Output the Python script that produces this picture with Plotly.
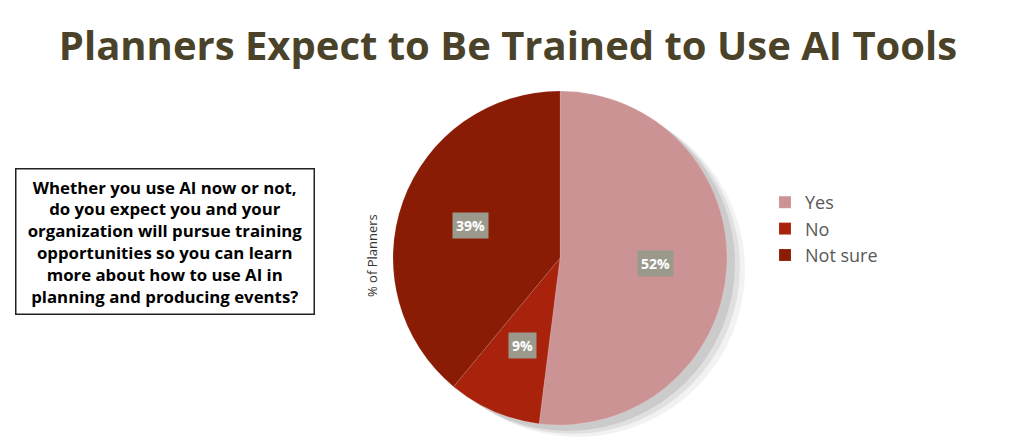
import math
import plotly.graph_objects as go

# data
labels = ["Yes", "No", "Not sure"]
values = [52, 9, 39]
colors = ["#cc9394", "#a9220c", "#8a1c06"]

title = "Planners Expect to Be Trained to Use AI Tools"
question = ("Whether you use AI now or not,<br>do you expect you and your<br>"
            "organization will pursue training<br>opportunities so you can learn<br>"
            "more about how to use AI in<br>planning and producing events?")

# page body has an 8px margin, so size the figure to fit the window
OFF = 8
W, H = 1024 - OFF, 443 - OFF


def px(X, Y):
    # window pixel -> paper coords
    return (X - OFF) / W, 1 - (Y - OFF) / H


# pie geometry
cx, cy = px(560, 258)
r = 167
dom_x = [cx - r / W, cx + r / W]
dom_y = [cy - r / H, cy + r / H]

fig = go.Figure()
fig.add_trace(go.Pie(
    labels=labels, values=values, sort=False, direction="clockwise", rotation=0,
    marker=dict(colors=colors, line=dict(color="rgba(255,255,255,0.25)", width=0.5)),
    textinfo="none", hoverinfo="label+percent",
    domain=dict(x=dom_x, y=dom_y),
))

# percent labels on grey boxes, placed at mid-angle of each slice
total = sum(values)
cum = 0
for lab, v in zip(labels, values):
    mid = (cum + v / 2) / total * 2 * math.pi
    cum += v
    rr = 0.57 * r
    fig.add_annotation(
        x=cx + rr * math.sin(mid) / W, y=cy + rr * math.cos(mid) / H,
        xref="paper", yref="paper", showarrow=False, xanchor="center", yanchor="middle",
        text="<b>%d%%</b>" % round(v / total * 100),
        font=dict(family="Open Sans, sans-serif", size=14, color="white"),
        bgcolor="#9b998c", borderpad=3,
    )

# soft shadow behind the pie
for dx, dy, op in [(18, 12, 0.05), (13, 9, 0.07), (8, 6, 0.09)]:
    fig.add_shape(
        type="circle", xref="paper", yref="paper", layer="below",
        x0=dom_x[0] + dx / W, x1=dom_x[1] + dx / W,
        y0=dom_y[0] - dy / H, y1=dom_y[1] - dy / H,
        fillcolor="rgba(0,0,0,%s)" % op, line=dict(width=0),
    )

# question box
bx, by = px(165, 241)
fig.add_annotation(
    x=bx, y=by, xref="paper", yref="paper", showarrow=False,
    xanchor="center", yanchor="middle",
    text="<b>" + question + "</b>", align="center",
    font=dict(family="Open Sans, sans-serif", size=16.8, color="black"),
    bordercolor="#222222", borderwidth=1.5, borderpad=6, bgcolor="white",
    width=285,
)

# axis-like label
lx, ly = px(372, 256)
fig.add_annotation(
    x=lx, y=ly, xref="paper", yref="paper", showarrow=False,
    xanchor="center", yanchor="middle",
    text="% of Planners", textangle=-90,
    font=dict(family="Open Sans, sans-serif", size=13, color="#333333"),
)

tx, ty = px(508, 46)
gx, gy = px(765, 184)
fig.update_layout(
    width=W, height=H,
    margin=dict(l=0, r=0, t=0, b=0),
    paper_bgcolor="white", plot_bgcolor="white",
    title=dict(text="<b>" + title + "</b>", x=tx, xanchor="center", y=ty, yanchor="middle",
               font=dict(family="Open Sans, sans-serif", size=40, color="#4a4329")),
    legend=dict(x=gx, y=gy, xanchor="left", yanchor="top",
                font=dict(family="Open Sans, sans-serif", size=18, color="#595959"),
                itemwidth=30),
    showlegend=True,
)

fig.write_html("out.html")
